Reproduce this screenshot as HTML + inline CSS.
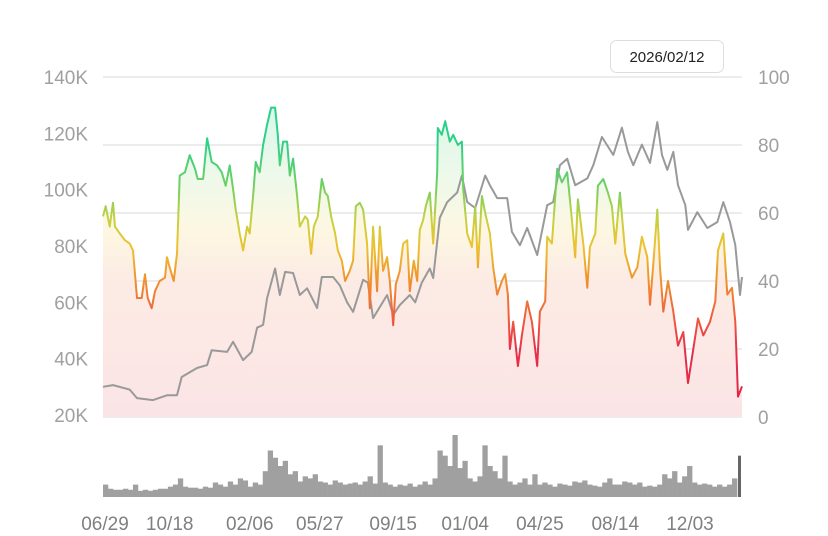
<!DOCTYPE html>
<html><head><meta charset="utf-8"><style>
body{margin:0;background:#fff;}
svg{display:block;font-family:"Liberation Sans",sans-serif;}
</style></head><body>
<svg id="c" width="828" height="536" viewBox="0 0 828 536" xmlns="http://www.w3.org/2000/svg">
<defs>
<linearGradient id="lineGrad" gradientUnits="userSpaceOnUse" x1="0" y1="77" x2="0" y2="417">
<stop offset="0" stop-color="#20d090"/>
<stop offset="0.2" stop-color="#30d088"/>
<stop offset="0.32" stop-color="#70d060"/>
<stop offset="0.42" stop-color="#c8d040"/>
<stop offset="0.5" stop-color="#ecc232"/>
<stop offset="0.6" stop-color="#f0902e"/>
<stop offset="0.7" stop-color="#f0603c"/>
<stop offset="0.8" stop-color="#e8304a"/>
<stop offset="1" stop-color="#e02040"/>
</linearGradient>
<linearGradient id="fillGrad" gradientUnits="userSpaceOnUse" x1="0" y1="77" x2="0" y2="417">
<stop offset="0.1" stop-color="#dcf7ea"/>
<stop offset="0.3" stop-color="#eef9ea"/>
<stop offset="0.45" stop-color="#fdf7e2"/>
<stop offset="0.6" stop-color="#fcebe4"/>
<stop offset="1" stop-color="#fbe4e6"/>
</linearGradient>
</defs>
<g id="grid"></g>
<g id="area"></g>
<g id="lines"></g>
<g id="vol"></g>
<g id="axes"></g>
<g>
<rect x="610.5" y="40.5" width="113" height="32" rx="6" fill="#fff" stroke="#ddd"/>
<text x="667" y="62" text-anchor="middle" font-size="15" fill="#222">2026/02/12</text>
</g>
</svg>
<script>
const fgDays=[0,4,10,15,18,25,33,40,45,51,58,63,67,73,78,85,93,96,100,106,111,115,123,130,138,142,150,156,163,171,178,184,190,195,199,205,210,216,220,225,229,235,240,246,252,258,262,265,270,276,280,285,291,295,303,307,312,316,322,328,333,337,342,348,352,358,363,370,375,379,385,390,396,400,405,411,415,420,426,430,435,439,445,450,456,460,466,471,475,480,484,
490,495,501,502,508,513,520,525,532,538,540,546,553,558,562,568,573,580,585,591,598,603,607,610,615,622,628,636,643,651,655,663,666,673,681,688,696,703,708,712,720,726,730,738,742,750,757,763,768,775,783,793,801,808,816,820,825,831,835,840,847,855,862,870,877,885,892,900,910,918,922,930,936,943,948,952,958];
const fgValues=[59,62,56,63,56,54,52,51,49,35,35,42,35,32,37,40,41,47,44,40,48,71,72,77,73,70,70,82,75,74,72,68,74,67,61,54,49,56,54,65,75,72,80,86,91,91,83,74,81,81,71,76,65,56,59,58,48,56,59,70,66,65,59,54,49,46,40,43,46,62,63,61,51,32,56,37,56,43,47,40,27,39,43,51,52,37,46,40,55,58,62,
66,51,72,85,83,87,81,83,80,81,67,54,50,62,44,65,60,54,44,36,40,42,36,20,28,15,24,34,28,15,31,34,53,51,73,69,72,58,47,64,51,38,50,54,68,70,66,62,51,66,48,41,44,53,47,33,45,61,44,31,40,31,21,25,10,20,29,24,28,34,49,54,36,38,28,6,9];
const priceDays=[0,15,40,51,75,96,111,118,141,156,163,186,195,210,223,231,240,246,258,265,273,285,295,306,321,328,345,355,366,375,390,397,405,426,435,445,460,468,478,490,495,505,516,531,538,546,558,573,580,591,606,613,625,636,651,666,675,685,696,708,726,735,748,765,778,787,795,808,820,831,838,846,855,862,873,877,891,906,921,930,940,948,955,958];
const priceValues=[30,30.6,29,26,25.3,27,27,33.5,36.7,37.7,43,42.4,46,39.5,42.4,51,52,61.5,72,62.6,70.8,70.4,62.6,65,58,69,69,66,60,56.6,68,67,54.4,62.6,55.5,59,62.6,60,67,72,68.6,90,95.6,99,105,95.6,93.5,105,101.6,97,97,85,80.3,86.4,76.8,94.5,95.6,108.7,111,101.6,104,108.7,118.7,112.3,122,113.4,108.7,116,109.5,124,112.3,107,113.4,101.6,94.5,85.7,92,86.4,88.5,95.6,88.5,80.3,62.6,69];
const volumeValues=[12,8,7,7,8,7,12,6,7,6,7,8,8,10,12,18,10,9,9,8,10,9,14,12,10,15,12,18,16,10,14,12,25,45,38,30,35,22,25,15,20,18,22,15,14,12,16,14,12,13,14,12,15,20,13,50,14,12,10,12,11,13,10,12,15,12,18,45,40,30,60,28,35,18,15,20,50,30,25,18,40,15,12,14,18,12,22,12,14,12,10,13,12,11,15,14,16,12,11,10,14,18,12,12,15,14,12,14,10,11,10,12,22,18,25,14,20,30,14,12,13,12,10,12,10,12,18,40];
const leftTicks=["20K","40K","60K","80K","100K","120K","140K"];
const leftTickVals=[20,40,60,80,100,120,140];
const rightTicks=["0","20","40","60","80","100"];
const rightTickVals=[0,20,40,60,80,100];
const xTicks=["06/29","10/18","02/06","05/27","09/15","01/04","04/25","08/14","12/03"];
const xTickDays=[3,100,220,325,435,543,655,768,880];

const NS="http://www.w3.org/2000/svg";
const X0=103,X1=742,DMAX=958;
const xs=d=>X0+(d/DMAX)*(X1-X0);
const yFG=v=>417-v*3.4;
const yP=v=>415-(v-20)*(338/120);
const VB=497,VMAX=60,VH=62;
const yV=v=>VB-(v/VMAX)*VH;
function mk(tag,attrs,parent){const e=document.createElementNS(NS,tag);for(const k in attrs)e.setAttribute(k,attrs[k]);document.getElementById(parent).appendChild(e);return e;}

rightTickVals.forEach((v,i)=>{
  const l=mk('line',{x1:X0,x2:X1,y1:yFG(v),y2:yFG(v),stroke:'#e6e6e6','stroke-width':1.5},'grid');
  
  
  const t=mk('text',{x:758,y:yFG(v)+7,'font-size':19,fill:'#a0a0a0'},'axes');t.textContent=rightTicks[i];
  
  
});
leftTickVals.forEach((v,i)=>{
  const t=mk('text',{x:88,y:yP(v)+7,'font-size':19,fill:'#a0a0a0','text-anchor':'end'},'axes');t.textContent=leftTicks[i];
  
  
});
xTickDays.forEach((d,i)=>{
  const t=mk('text',{x:xs(d),y:530,'font-size':19,fill:'#808080','text-anchor':'middle'},'axes');t.textContent=xTicks[i];
  
  
});

let fgPts=fgDays.map((d,i)=>xs(d).toFixed(1)+','+yFG(fgValues[i]).toFixed(1));
const area=mk('path',{d:'M'+xs(fgDays[0])+',417 L'+fgPts.join(' L')+' L'+xs(fgDays[fgDays.length-1])+',417 Z',fill:'url(#fillGrad)'},'area');


const pl=mk('path',{d:'M'+priceDays.map((d,i)=>xs(d).toFixed(1)+','+yP(priceValues[i]).toFixed(1)).join(' L'),fill:'none',stroke:'#999','stroke-width':2,'stroke-linejoin':'round'},'lines');


const fl=mk('path',{d:'M'+fgPts.join(' L'),fill:'none',stroke:'url(#lineGrad)','stroke-width':2,'stroke-linejoin':'round'},'lines');



const bw=(X1-X0)/volumeValues.length;
volumeValues.forEach((v,i)=>{
  const last=i===volumeValues.length-1;
  const r=mk('rect',{x:X0+i*bw,y:yV(v),width:last?3:bw+0.3,height:VB-yV(v),fill:last?'#666':'#a0a0a0'},'vol');
  if(last)r.setAttribute('x',X1-4);
  
  
});
</script>
</body></html>
